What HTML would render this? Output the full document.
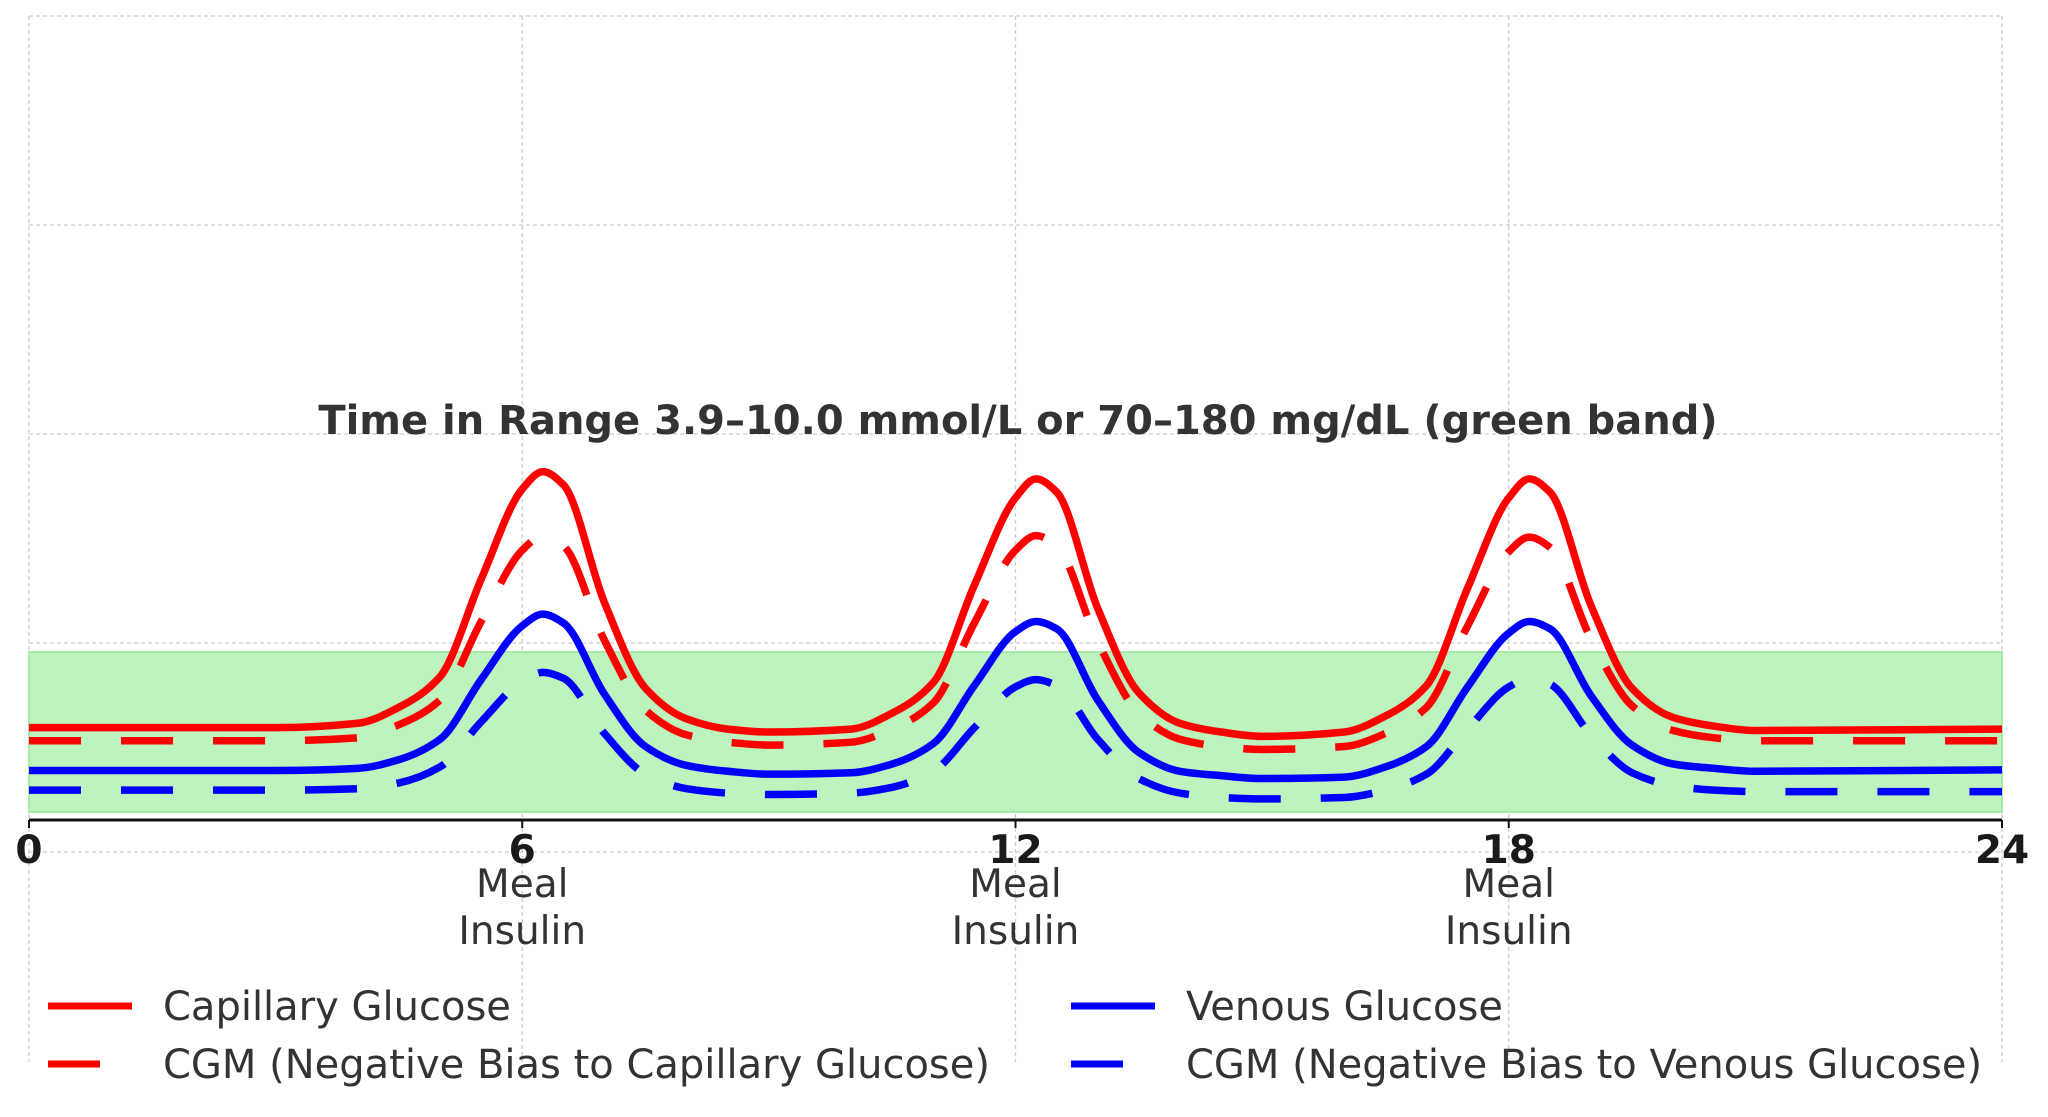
<!DOCTYPE html>
<html><head><meta charset="utf-8"><style>
html,body{margin:0;padding:0;background:#fff;}
svg{display:block;font-family:"DejaVu Sans","Liberation Sans",sans-serif;}
</style></head><body>
<svg id="chart" width="2048" height="1117" viewBox="0 0 2048 1117" xmlns="http://www.w3.org/2000/svg"></svg>
<script>
const hours = [0,3,4,4.5,5,5.5,6,6.25,6.5,7,7.5,8,8.5,9,10,10.5,11,11.5,12,12.25,12.5,13,13.5,14,14.5,15,16,16.5,17,17.5,18,18.25,18.5,19,19.5,20,20.5,21,24];
const capillary = [128,128,131,142,163,230,292,304,295,214,155,134,127,125,127,138,159,226,286,299,290,210,152,131,125,122,125,136,157,224,286,299,290,212,155,135,129,126,127];
const cgmCapillary = [119,119,121,130,147,201,250,260,253,188,140,123,118,116,118,127,145,200,250,260,253,187,138,120,115,113,115,124,142,198,249,259,252,189,143,126,121,119,119];
const venous = [98.5,98.5,100,106,120,161,198,206,200,151,115,102,98,96,97,103,117,157,194,201,196,147,111,98,95,93,94,101,115,156,193,201,196,150,116,103,100,98,99];
const cgmVenous = [85,85,86,90,101,132,160,166,162,124,96,86,83,82,83,87,98,128,156,161,157,120,93,83,80,79,80,85,96,127,156,162,158,123,97,88,85,84,84];
const xTicks = [0,6,12,18,24];
const mealTimes = [6,12,18];
const bandRange = [70,180];

const NS = "http://www.w3.org/2000/svg";
const svg = document.getElementById('chart');
const X0 = 29, X1 = 2002;
function xs(h){ return X0 + (h/24)*(X1-X0); }
function ys(v){ return 812 - (v-70)*(160/110); }
function mk(tag, attrs, parent){
  const e = document.createElementNS(NS, tag);
  for (const k in attrs) e.setAttribute(k, attrs[k]);
  (parent||svg).appendChild(e);
  return e;
}
const gridY = [16,225,434,643,852];
gridY.forEach(y=>{
  const g = mk('line',{x1:X0,x2:X1,y1:y,y2:y,stroke:'#cccccc','stroke-width':1.3,'stroke-dasharray':'4,3'});
  
  
});
[0,6,12,18,24].forEach(h=>{
  const g = mk('line',{x1:xs(h),x2:xs(h),y1:16,y2:1062,stroke:'#cccccc','stroke-width':1.3,'stroke-dasharray':'4,3'});
  
  
});
const band = mk('rect',{x:X0,y:ys(bandRange[1]),width:X1-X0,height:ys(bandRange[0])-ys(bandRange[1]),fill:'#bdf3bd',stroke:'#a8eaa8','stroke-width':2});


const title = mk('text',{x:1018,y:434,'text-anchor':'middle','font-size':40,'font-weight':'bold',fill:'#333333'});
title.textContent = 'Time in Range 3.9–10.0 mmol/L or 70–180 mg/dL (green band)';


// monotone cubic path
function pathD(arr){
  const xsA = hours.map(xs), ysA = arr.map(ys), n = xsA.length;
  const d = [], m = new Array(n);
  for(let i=0;i<n-1;i++) d.push((ysA[i+1]-ysA[i])/(xsA[i+1]-xsA[i]));
  m[0]=d[0]; m[n-1]=d[n-2];
  for(let i=1;i<n-1;i++){
    if(d[i-1]*d[i]<=0) m[i]=0;
    else { const h0=xsA[i]-xsA[i-1], h1=xsA[i+1]-xsA[i]; const w1=2*h1+h0, w2=h1+2*h0; m[i]=(w1+w2)/(w1/d[i-1]+w2/d[i]); }
  }
  let s='M'+xsA[0]+','+ysA[0];
  for(let i=0;i<n-1;i++){
    const h=xsA[i+1]-xsA[i];
    s+=' C'+(xsA[i]+h/3)+','+(ysA[i]+m[i]*h/3)+' '+(xsA[i+1]-h/3)+','+(ysA[i+1]-m[i+1]*h/3)+' '+xsA[i+1]+','+ysA[i+1];
  }
  return s;
}
const series = [
  {data:capillary,color:'#ff0000',dash:null,name:'capillary-glucose-line'},
  {data:cgmCapillary,color:'#ff0000',dash:'52,40',name:'cgm-capillary-line'},
  {data:venous,color:'#0000ff',dash:null,name:'venous-glucose-line'},
  {data:cgmVenous,color:'#0000ff',dash:'52,40',name:'cgm-venous-line'}
];
series.forEach(s=>{
  const p = mk('path',{d:pathD(s.data),fill:'none',stroke:s.color,'stroke-width':7.5});
  if(s.dash) p.setAttribute('stroke-dasharray',s.dash);
  
  
});
const ax = mk('line',{x1:X0,x2:X1,y1:820,y2:820,stroke:'#111','stroke-width':3});


xTicks.forEach(h=>{
  const tk = mk('line',{x1:xs(h),x2:xs(h),y1:820,y2:828,stroke:'#111','stroke-width':2});
  
  
  const t = mk('text',{x:xs(h),y:863,'text-anchor':'middle','font-size':39,'font-weight':'bold',fill:'#1a1a1a'});
  t.textContent = String(h);
  
  
});
mealTimes.forEach(h=>{
  const t1 = mk('text',{x:xs(h),y:897,'text-anchor':'middle','font-size':39,fill:'#333'});
  t1.textContent='Meal';
  
  
  const t2 = mk('text',{x:xs(h),y:944,'text-anchor':'middle','font-size':39,fill:'#333'});
  t2.textContent='Insulin';
  
  
});
const legend = [
  {x:48,y:1006,color:'#ff0000',dash:null,label:'Capillary Glucose'},
  {x:48,y:1064,color:'#ff0000',dash:'52,40',label:'CGM (Negative Bias to Capillary Glucose)'},
  {x:1071,y:1006,color:'#0000ff',dash:null,label:'Venous Glucose'},
  {x:1071,y:1064,color:'#0000ff',dash:'52,40',label:'CGM (Negative Bias to Venous Glucose)'}
];
legend.forEach(l=>{
  const g = mk('g',{});
  
  
  const ln = mk('line',{x1:l.x,x2:l.x+84,y1:l.y,y2:l.y,stroke:l.color,'stroke-width':7},g);
  if(l.dash) ln.setAttribute('stroke-dasharray',l.dash);
  const t = mk('text',{x:l.x+115,y:l.y+14,'font-size':40,fill:'#333'},g);
  t.textContent = l.label;
});
</script>
</body></html>
